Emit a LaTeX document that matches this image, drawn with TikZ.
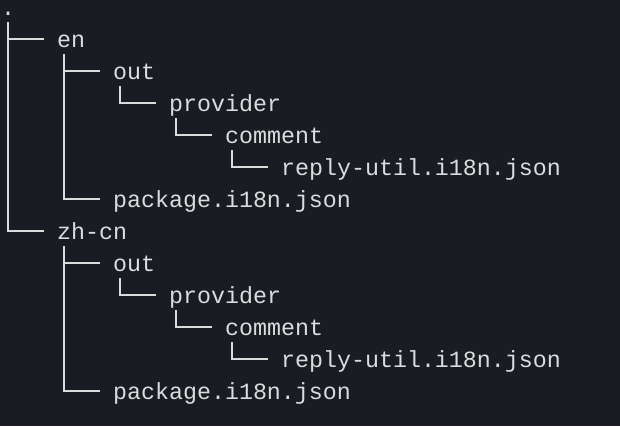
\documentclass[tikz,border=0pt]{standalone}
\usepackage{fontspec}
\setmonofont{Liberation Mono}
\definecolor{termbg}{HTML}{1A1C23}
\definecolor{termfg}{HTML}{DCDCDC}
\tikzset{
  entry/.style={anchor=base west, inner sep=0pt, text=termfg,
    font=\ttfamily\fontsize{23.3}{28}\selectfont},
  branch/.style={draw=termfg, line width=2pt},
}
\begin{document}
\begin{tikzpicture}[x=1pt,y=-1pt]
  \fill[termbg] (0,0) rectangle (620,426);

  \node[entry] (root) at (1,15) {.};

  \node[entry] (en) at (57,47) {en};
  \node[entry] (enout) at (113,79) {out};
  \node[entry] (enprovider) at (169,111) {provider};
  \node[entry] (encomment) at (225,143) {comment};
  \node[entry] (enreply) at (281,175) {reply-util.i18n.json};
  \node[entry] (enpackage) at (113,207) {package.i18n.json};

  \node[entry] (zh) at (57,239) {zh-cn};
  \node[entry] (zhout) at (113,271) {out};
  \node[entry] (zhprovider) at (169,303) {provider};
  \node[entry] (zhcomment) at (225,335) {comment};
  \node[entry] (zhreply) at (281,367) {reply-util.i18n.json};
  \node[entry] (zhpackage) at (113,399) {package.i18n.json};

  % parent/child
  \foreach \p/\c in {root/en, en/enout, enout/enprovider, enprovider/encomment,
      encomment/enreply, en/enpackage, root/zh, zh/zhout, zhout/zhprovider,
      zhprovider/zhcomment, zhcomment/zhreply, zh/zhpackage}
    \draw[branch] ([xshift=7pt,yshift=-7pt]\p.base west) |- ([xshift=-13pt,yshift=8pt]\c.base west);
\end{tikzpicture}
\end{document}
